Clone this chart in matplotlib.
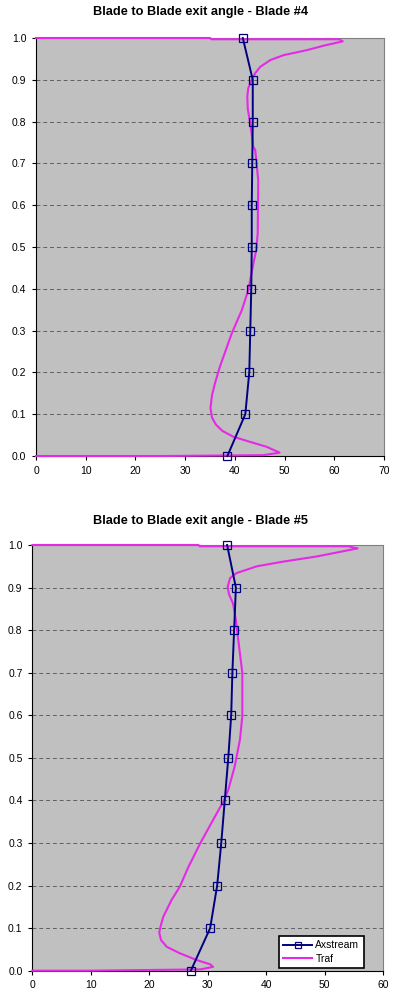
import matplotlib
matplotlib.use("Agg")
import matplotlib.pyplot as plt

# ---------------- data ----------------
span = [0.0, 0.1, 0.2, 0.3, 0.4, 0.5, 0.6, 0.7, 0.8, 0.9, 1.0]

axstream4 = [38.5, 42.1, 42.9, 43.1, 43.3, 43.4, 43.4, 43.5, 43.6, 43.6, 41.6]
traf4_x = [0.0, 26.0, 45.7, 49.0, 46.4, 43.0, 39.7, 37.5, 36.2, 35.4, 35.1, 35.4,
           36.0, 37.0, 39.4, 41.4, 42.7, 43.6, 44.3, 44.6, 44.7, 44.1, 43.7, 43.1,
           42.6, 42.5, 42.7, 43.4, 44.1, 45.1, 47.1, 49.8, 54.5, 58.0, 61.7, 61.0,
           35.3, 35.0, 0.0]
traf4_y = [0.0, 0.0, 0.002, 0.008, 0.022, 0.034, 0.046, 0.06, 0.075, 0.092, 0.115,
           0.145, 0.174, 0.214, 0.294, 0.349, 0.397, 0.453, 0.493, 0.533, 0.66,
           0.732, 0.74, 0.796, 0.83, 0.86, 0.88, 0.9, 0.916, 0.931, 0.947, 0.959,
           0.971, 0.982, 0.992, 0.997, 0.997, 1.0, 1.0]

axstream5 = [27.1, 30.4, 31.6, 32.3, 32.9, 33.5, 34.0, 34.2, 34.5, 34.8, 33.3]
traf5_x = [0.0, 9.0, 28.7, 30.9, 30.4, 28.1, 25.2, 23.0, 22.0, 21.7, 22.0, 22.4,
           23.8, 25.2, 26.7, 28.7, 30.9, 32.8, 33.5, 34.6, 35.5, 35.9, 35.9, 35.2,
           34.8, 34.3, 33.6, 33.4, 33.8, 34.9, 38.4, 42.9, 48.6, 55.6, 54.0, 28.6,
           28.4, 0.0]
traf5_y = [0.0, 0.0, 0.003, 0.009, 0.015, 0.025, 0.041, 0.056, 0.072, 0.09, 0.108,
           0.127, 0.166, 0.197, 0.244, 0.299, 0.354, 0.401, 0.425, 0.48, 0.543,
           0.598, 0.7, 0.778, 0.824, 0.863, 0.885, 0.902, 0.922, 0.934, 0.95, 0.961,
           0.973, 0.992, 0.997, 0.997, 1.0, 1.0]

titles = ["Blade to Blade exit angle - Blade #4", "Blade to Blade exit angle - Blade #5"]
xlims = [70, 60]
yticks = [0.0, 0.1, 0.2, 0.3, 0.4, 0.5, 0.6, 0.7, 0.8, 0.9, 1.0]

# ---------------- style ----------------
plt.rcParams['font.family'] = ['Liberation Sans', 'DejaVu Sans']
NAVY = '#000080'
MAG = '#E629E6'
BG = '#C0C0C0'
W, H = 401, 997

fig = plt.figure(figsize=(W / 100, H / 100), dpi=100)
fig.patch.set_facecolor('white')

boxes = [
    (36, 38, 384, 456),
    (32.3, 545, 383.3, 970.7),
]
title_y = [12, 521]

datasets = [
    (axstream4, traf4_x, traf4_y),
    (axstream5, traf5_x, traf5_y),
]

for i, ((x0, y0, x1, y1), (ax_vals, tx, ty)) in enumerate(zip(boxes, datasets)):
    ax = fig.add_axes([x0 / W, 1 - y1 / H, (x1 - x0) / W, (y1 - y0) / H])
    ax.set_facecolor(BG)
    ax.set_xlim(0, xlims[i])
    ax.set_ylim(0, 1.0)
    ax.set_xticks(range(0, xlims[i] + 1, 10))
    ax.set_yticks(yticks)
    ax.set_yticklabels([f"{v:.1f}" for v in yticks])
    for yv in yticks[1:-1]:
        ax.axhline(yv, color='#606060', lw=0.7, ls=(0, (4, 3)), zorder=1)
    ax.tick_params(axis='both', labelsize=7.5, length=3, width=0.8, colors='black', pad=4)
    for s in ['top', 'right']:
        ax.spines[s].set_color('#808080')
        ax.spines[s].set_linewidth(0.8)
    for s in ['left', 'bottom']:
        ax.spines[s].set_color('black')
        ax.spines[s].set_linewidth(0.8)

    ax.plot(tx, ty, color=MAG, lw=1.5, zorder=3, clip_on=False, label='Traf')
    ax.plot(ax_vals, span, color=NAVY, lw=1.4, marker='s', ms=5.5,
            mfc='none', mec=NAVY, mew=0.9, zorder=4, clip_on=False, label='Axstream')

    fig.text(0.5, 1 - title_y[i] / H, titles[i], ha='center', va='center',
             fontsize=9.2, fontweight='bold')

    if i == 1:
        h, l = ax.get_legend_handles_labels()
        leg = ax.legend(h[::-1], l[::-1], loc='lower right', bbox_to_anchor=(0.944, 0.006),
                        fontsize=7.5, frameon=True, fancybox=False, framealpha=1,
                        edgecolor='black', handlelength=2.8, borderpad=0.4,
                        labelspacing=0.35, handletextpad=0.3, borderaxespad=0,
                        markerscale=0.8)
        leg.get_frame().set_linewidth(1.2)

fig.savefig('out.png', dpi=100, facecolor='white')
